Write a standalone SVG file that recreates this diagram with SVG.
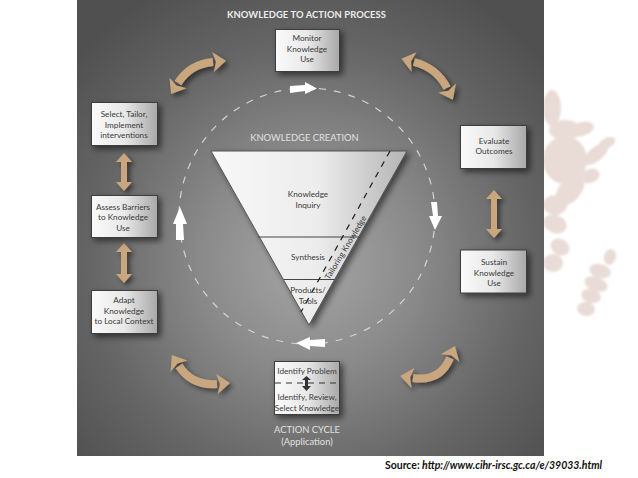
<svg xmlns="http://www.w3.org/2000/svg" width="638" height="478" viewBox="0 0 638 478">
<style>
.n{fill:url(#box);stroke:#3d3d3d;stroke-width:1;filter:url(#sh)}
.t{font-family:Lato,"Open Sans","Liberation Sans",sans-serif;font-size:8.200px;fill:#3a3a3a;text-anchor:middle}
.h{font-family:Lato,"Open Sans","Liberation Sans",sans-serif;font-size:9.400px;fill:#e0e0e0;text-anchor:middle}
.c{fill:none;stroke:#c9a67e;stroke-width:8}
.s{fill:none;stroke:#c9a67e;stroke-width:6}
.d{marker-start:url(#hd);marker-end:url(#hd)}
.e{marker-start:url(#he);marker-end:url(#he)}
.w{fill:#fff}
.b{fill:#e9dcd6}
</style>
<defs>
<radialGradient id="bg" gradientUnits="userSpaceOnUse" cx="310" cy="262" r="310">
<stop offset="0" stop-color="#a6a6a6"/><stop offset=".35" stop-color="#8a8a8a"/><stop offset=".7" stop-color="#666"/><stop offset="1" stop-color="#505050"/>
</radialGradient>
<linearGradient id="box"><stop offset="0" stop-color="#fafafa"/><stop offset=".5" stop-color="#e8e8e8"/><stop offset="1" stop-color="#a8a8a8"/></linearGradient>
<linearGradient id="tri"><stop offset="0" stop-color="#f8f8f8"/><stop offset=".55" stop-color="#ececec"/><stop offset="1" stop-color="#b4b4b4"/></linearGradient>
<filter id="sh" x="-30%" y="-30%" width="170%" height="170%"><feDropShadow dx="3" dy="3" stdDeviation="3" flood-color="#000" flood-opacity=".55"/></filter>
<filter id="sa" x="-30%" y="-30%" width="170%" height="170%"><feDropShadow dx="3" dy="3" stdDeviation="2.500" flood-color="#000" flood-opacity=".5"/></filter>
<filter id="bl"><feGaussianBlur stdDeviation="1"/></filter>
<marker id="hd" markerUnits="userSpaceOnUse" markerWidth="20" markerHeight="24" refX="3" refY="12" orient="auto-start-reverse"><path d="M3 2 L16 12 L3 22 L6 12Z" fill="#c9a67e"/></marker>
<marker id="he" markerUnits="userSpaceOnUse" markerWidth="16" markerHeight="20" refX="2" refY="8" orient="auto-start-reverse"><path d="M2 0 L11 8 L2 16Z" fill="#c9a67e"/></marker>
</defs>

<g id="beans" filter="url(#bl)">
<ellipse class="b" cx="582" cy="129" rx="12" ry="7" transform="rotate(-15 582 129)"/>
<ellipse class="b" cx="607" cy="143" rx="9" ry="5" transform="rotate(-25 607 143)"/>
<ellipse class="b" cx="596" cy="154" rx="15" ry="7" transform="rotate(-40 596 154)"/>
<ellipse class="b" cx="565" cy="130" rx="16" ry="10"/>
<ellipse class="b" cx="565" cy="160" rx="22" ry="24"/>
<ellipse class="b" cx="590" cy="176" rx="10" ry="7" transform="rotate(-20 590 176)"/>
<ellipse class="b" cx="570" cy="190" rx="18" ry="11" transform="rotate(-50 570 190)"/>
<ellipse class="b" cx="552" cy="108" rx="9" ry="18"/>
<ellipse class="b" cx="555" cy="205" rx="12" ry="10"/>
<ellipse class="b" cx="555" cy="224" rx="12" ry="9" transform="rotate(20 555 224)"/>
<ellipse class="b" cx="560" cy="247" rx="10" ry="8" transform="rotate(30 560 247)"/>
<ellipse class="b" cx="553" cy="263" rx="10" ry="9"/>
<ellipse class="b" cx="610" cy="257" rx="6" ry="8" transform="rotate(15 610 257)"/>
<ellipse class="b" cx="600" cy="271" rx="11" ry="7" transform="rotate(15 600 271)"/>
<ellipse class="b" cx="596" cy="284" rx="12" ry="7" transform="rotate(20 596 284)"/>
<ellipse class="b" cx="591" cy="296" rx="10" ry="7" transform="rotate(15 591 296)"/>
<ellipse class="b" cx="586" cy="309" rx="9" ry="7" transform="rotate(10 586 309)"/>
</g>

<rect id="panel" x="77" y="0" width="467" height="456" fill="url(#bg)"/>

<text class="h" x="306.500" y="17.500" font-weight="700" textLength="159" style="fill:#ececec">KNOWLEDGE TO ACTION PROCESS</text>
<text class="h" x="304.500" y="141">KNOWLEDGE CREATION</text>
<text class="h" x="307" y="433">ACTION CYCLE</text>
<text class="h" x="307" y="445">(Application)</text>

<g id="connectors">
<circle cx="307" cy="216" r="128" fill="none" stroke="#d4d4d4" stroke-width="1.200" stroke-dasharray="7 8"/>
<g filter="url(#sa)">
<path class="c d" d="M178 83 Q190 64 213 62"/>
<path class="c d" d="M414 62 Q437 68 447 88"/>
<path class="c d" d="M179 366 Q192 386 217 384"/>
<path class="c d" d="M413 378 Q440 382 450 358"/>
<path class="s e" d="M124 162 V182"/>
<path class="s e" d="M124 252 V274"/>
<path class="s e" d="M494 199 V229"/>
</g>
<path class="w" d="M290 86 L305 85 L305 82 L317 88.500 L305 94 L305 91 L290 93Z"/>
<path class="w" d="M431 202 L437 202 L438 216 L442 216 L435 230 L429 216 L433 216Z"/>
<path class="w" d="M325 339 L325 347 L310 346 L310 350 L296 343 L310 337 L310 340Z"/>
<path class="w" d="M176 240 L176 224 L173 224 L180 207 L187 224 L183 224 L184 240Z"/>
</g>

<g id="knowledge-funnel">
<path d="M211 151 H407 L309 325Z" fill="url(#tri)" stroke="#555" stroke-width="1" filter="url(#sh)"/>
<path d="M258 237 H359 M284 279.500 H335" stroke="#444" stroke-width="1" fill="none"/>
<path d="M390 151 L301 312" stroke="#222" stroke-width="1.300" stroke-dasharray="6 6" fill="none"/>
<text class="t" x="308" y="197">Knowledge</text>
<text class="t" x="308" y="208">Inquiry</text>
<text class="t" x="308" y="260">Synthesis</text>
<text class="t" x="308" y="293">Products/</text>
<text class="t" x="308" y="304">Tools</text>
<text class="t" x="348" y="249" transform="rotate(-59 348 249)">Tailoring Knowledge</text>
</g>

<g id="monitor"><rect class="n" x="275.500" y="29.500" width="64" height="42"/>
<text class="t" x="307" y="41">Monitor</text><text class="t" x="307" y="52">Knowledge</text><text class="t" x="307" y="62">Use</text></g>
<g id="select"><rect class="n" x="91.500" y="102.500" width="66" height="43"/>
<text class="t" x="124" y="117">Select, Tailor,</text><text class="t" x="124" y="128">Implement</text><text class="t" x="124" y="138">interventions</text></g>
<g id="assess"><rect class="n" x="91.500" y="195.500" width="66" height="42"/>
<text class="t" x="123" y="210">Assess Barriers</text><text class="t" x="123" y="220">to Knowledge</text><text class="t" x="123" y="231">Use</text></g>
<g id="adapt"><rect class="n" x="91.500" y="290.500" width="66" height="43"/>
<text class="t" x="124" y="303">Adapt</text><text class="t" x="124" y="314">Knowledge</text><text class="t" x="124" y="324">to Local Context</text></g>
<g id="evaluate"><rect class="n" x="460.500" y="125.500" width="66" height="43"/>
<text class="t" x="494" y="144">Evaluate</text><text class="t" x="494" y="154">Outcomes</text></g>
<g id="sustain"><rect class="n" x="460.500" y="250" width="66" height="43"/>
<text class="t" x="494" y="265">Sustain</text><text class="t" x="494" y="276">Knowledge</text><text class="t" x="494" y="286">Use</text></g>
<g id="identify"><rect class="n" x="274.500" y="361.500" width="65" height="53"/>
<path d="M275 383 H340" stroke="#333" stroke-width="1" stroke-dasharray="6 5" fill="none"/>
<path d="M306.500 376 L302 380 H305 V386 H302 L306.500 391 L311 386 H308 V380 H311Z" fill="#333"/>
<text class="t" x="307" y="374">Identify Problem</text><text class="t" x="307" y="400">Identify, Review,</text><text class="t" x="307" y="411">Select Knowledge</text></g>

<text x="385" y="469" font-family="Lato,'Liberation Sans',sans-serif" font-size="10.500" font-weight="700" fill="#111" textLength="217">Source: <tspan font-style="italic">http://www.cihr-irsc.gc.ca/e/39033.html</tspan></text>
</svg>
